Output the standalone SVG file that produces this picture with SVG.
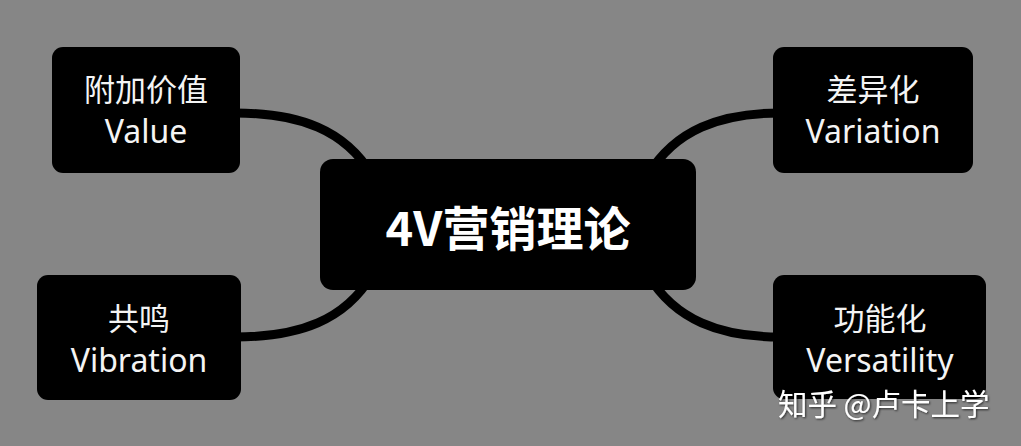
<svg xmlns="http://www.w3.org/2000/svg" width="1021" height="446" viewBox="0 0 1021 446">
  <defs>
    <style>
      .box { fill: #000; }
      .link { fill: none; stroke: #000; stroke-width: 9; stroke-linecap: round; }
      .t { fill: #f4f4f4; font-family: "Noto Sans", "Noto Sans CJK SC", sans-serif; text-anchor: middle; }
      .cn { font-size: 31px; font-family: "Noto Sans CJK SC", sans-serif; }
      .en { font-size: 32px; }
      .title { fill: #fff; font-family: "Noto Sans CJK SC", sans-serif; font-weight: bold; font-size: 47px; text-anchor: middle; }
      .wm { fill: #fff; font-family: "Noto Sans CJK SC", sans-serif; font-size: 29.5px; }
    </style>
    <filter id="sh" x="-10%" y="-30%" width="120%" height="160%">
      <feDropShadow dx="1" dy="1" stdDeviation="1" flood-color="#000" flood-opacity="0.7"/>
    </filter>
  </defs>
  <rect width="1021" height="446" fill="#868686"/>

  <g id="connectors">
    <path class="link" d="M235,113 C300,113 345,130 372,175"/>
    <path class="link" d="M780,113 C720,113 675,130 648,175"/>
    <path class="link" d="M235,337 C300,337 345,320 372,275"/>
    <path class="link" d="M780,337 C720,337 675,320 648,275"/>
  </g>

  <g id="center">
    <rect class="box" x="320" y="159" width="376" height="131" rx="13"/>
    <text class="title" x="508" y="246">4V营销理论</text>
  </g>

  <g id="value">
    <rect class="box" x="52" y="47" width="188" height="126" rx="11"/>
    <text class="t cn" x="146" y="101">附加价值</text>
    <text class="t en" x="146" y="143">Value</text>
  </g>

  <g id="variation">
    <rect class="box" x="773" y="47" width="200" height="126" rx="11"/>
    <text class="t cn" x="873" y="101">差异化</text>
    <text class="t en" x="873" y="143">Variation</text>
  </g>

  <g id="vibration">
    <rect class="box" x="37" y="275" width="204" height="125" rx="11"/>
    <text class="t cn" x="139" y="330">共鸣</text>
    <text class="t en" x="139" y="372">Vibration</text>
  </g>

  <g id="versatility">
    <rect class="box" x="773" y="275" width="213" height="124" rx="11"/>
    <text class="t cn" x="880" y="330">功能化</text>
    <text class="t en" x="880" y="372">Versatility</text>
  </g>

  <text class="wm" x="778" y="415" filter="url(#sh)">知乎 @卢卡上学</text>
</svg>
